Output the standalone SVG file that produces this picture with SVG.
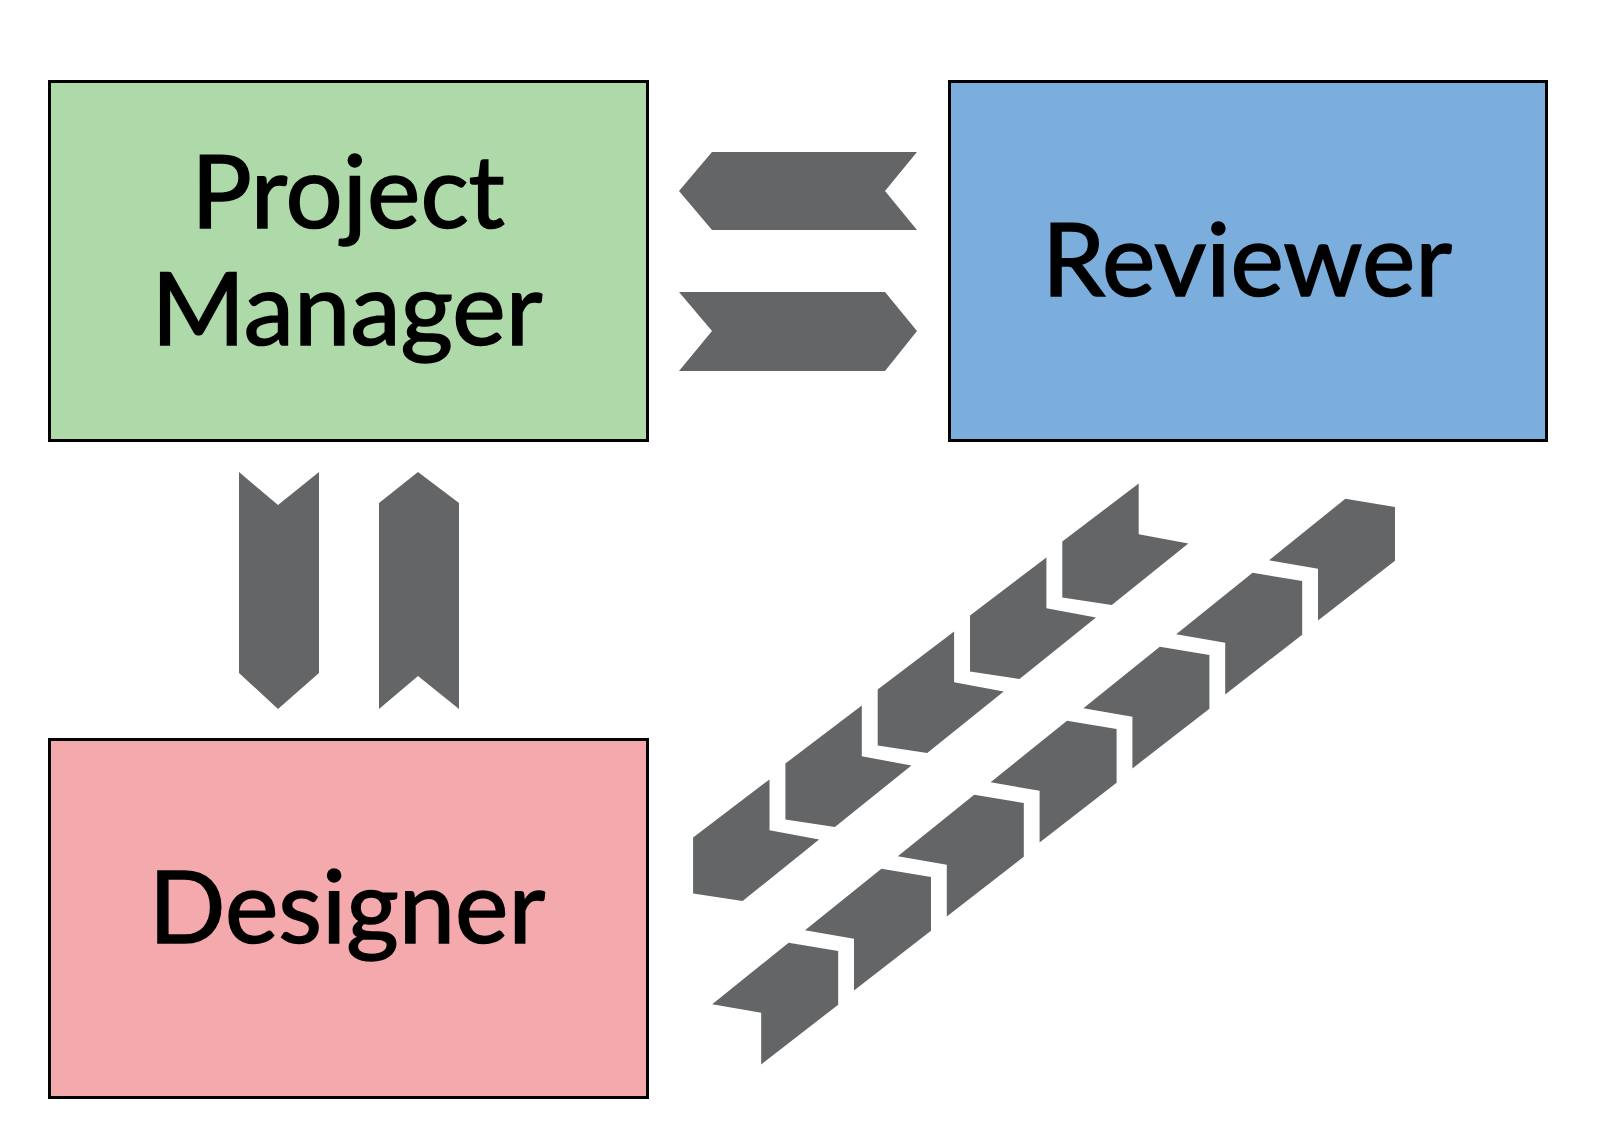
<svg xmlns="http://www.w3.org/2000/svg" width="1607" height="1137" viewBox="0 0 1607 1137">
<style>
.box{stroke:#000;stroke-width:3}
.lbl{font-family:Lato,"Liberation Sans",sans-serif;font-size:101px;fill:#000;stroke:#000;stroke-width:1.6;text-anchor:middle}
.arr{fill:#646567}
</style>
<defs>
<path id="chevU" d="M0,0 L0,50.9 L49.6,60.1 L-26.9,121.7 L-76.4,114 L-76.4,58.2 Z"/>
<path id="chevL" d="M0,0 L49.6,8.4 L49.6,62 L-27.4,121.7 L-27.4,70 L-76.4,61.6 Z"/>
</defs>
<rect width="1607" height="1137" fill="#fff"/>
<g id="connectors" class="arr">
<polygon points="712,152 917,152 885,191 917,230 712,230 679,191"/>
<polygon points="679,292 885,292 917,331 885,371 679,371 712,331"/>
<polygon points="239,472 278,505 319,472 319,673 278,709 239,673"/>
<polygon points="418,472 459,503 459,709 418,676 379,709 379,503"/>
<g id="diag-upper">
<use href="#chevU" x="1138.7" y="483.4"/>
<use href="#chevU" x="1046.4" y="557.4"/>
<use href="#chevU" x="954.1" y="631.4"/>
<use href="#chevU" x="861.8" y="705.4"/>
<use href="#chevU" x="769.5" y="779.4"/>
</g>
<g id="diag-lower">
<use href="#chevL" x="1345.4" y="498.7"/>
<use href="#chevL" x="1252.6" y="572.7"/>
<use href="#chevL" x="1159.8" y="646.7"/>
<use href="#chevL" x="1067" y="720.7"/>
<use href="#chevL" x="974.2" y="794.7"/>
<use href="#chevL" x="881.4" y="868.7"/>
<use href="#chevL" x="788.6" y="942.7"/>
</g>
</g>
<g id="project-manager">
<rect class="box" x="49.5" y="81.5" width="598" height="359" fill="#aed9a8"/>
<text class="lbl" x="348" y="228">Project</text>
<text class="lbl" x="347" y="345">Manager</text>
</g>
<g id="reviewer">
<rect class="box" x="949.5" y="81.5" width="597" height="359" fill="#7baedd"/>
<text class="lbl" x="1247" y="296">Reviewer</text>
</g>
<g id="designer">
<rect class="box" x="49.5" y="739.5" width="598" height="358" fill="#f4a9ad"/>
<text class="lbl" x="347" y="943">Designer</text>
</g>
</svg>
